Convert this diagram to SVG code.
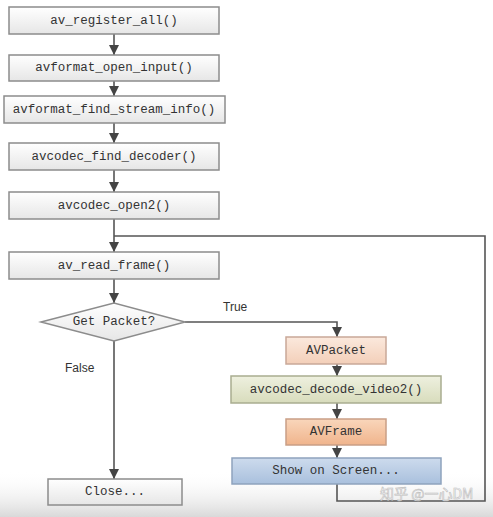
<svg xmlns="http://www.w3.org/2000/svg" width="493" height="517" viewBox="0 0 493 517">
<defs>
<linearGradient id="gBox" x1="0" y1="0" x2="0" y2="1">
<stop offset="0" stop-color="#ffffff"/><stop offset="1" stop-color="#e6e6e6"/>
</linearGradient>
<linearGradient id="gPkt" x1="0" y1="0" x2="0" y2="1">
<stop offset="0" stop-color="#fbe9dd"/><stop offset="1" stop-color="#f3cfb9"/>
</linearGradient>
<linearGradient id="gDec" x1="0" y1="0" x2="0" y2="1">
<stop offset="0" stop-color="#eef0df"/><stop offset="1" stop-color="#d8dcbc"/>
</linearGradient>
<linearGradient id="gFrm" x1="0" y1="0" x2="0" y2="1">
<stop offset="0" stop-color="#f9d6bb"/><stop offset="1" stop-color="#f0b48c"/>
</linearGradient>
<linearGradient id="gShow" x1="0" y1="0" x2="0" y2="1">
<stop offset="0" stop-color="#cddbed"/><stop offset="1" stop-color="#a9c0dd"/>
</linearGradient>
<linearGradient id="gBg" x1="0" y1="0" x2="0" y2="1">
<stop offset="0" stop-color="#ffffff" stop-opacity="0"/><stop offset="1" stop-color="#d9d9d9"/>
</linearGradient>
<marker id="arr" viewBox="0 0 10 10" refX="10" refY="5" markerWidth="10" markerHeight="10" markerUnits="userSpaceOnUse" orient="auto">
<path d="M0,0 L10,5 L0,10 z" fill="#444"/>
</marker>
</defs>
<style>
.box{stroke:#8c8c8c;stroke-width:1.5}
.t{font-family:"Liberation Mono","DejaVu Sans Mono",monospace;font-size:12.5px;fill:#333;text-anchor:middle;dominant-baseline:central}
.lbl{font-family:"Liberation Sans",Arial,sans-serif;font-size:12px;fill:#333}
.c{fill:none;stroke:#555;stroke-width:1.6}
</style>
<rect x="0" y="0" width="493" height="517" fill="#ffffff"/>
<rect x="0" y="470" width="493" height="47" fill="url(#gBg)"/>
<g id="connectors">
<line class="c" x1="114" y1="34" x2="114" y2="55" marker-end="url(#arr)"/>
<line class="c" x1="114" y1="81" x2="114" y2="96" marker-end="url(#arr)"/>
<line class="c" x1="114" y1="123" x2="114" y2="143" marker-end="url(#arr)"/>
<line class="c" x1="114" y1="170" x2="114" y2="192" marker-end="url(#arr)"/>
<line class="c" x1="114" y1="219" x2="114" y2="252" marker-end="url(#arr)"/>
<line class="c" x1="114" y1="279" x2="114" y2="303" marker-end="url(#arr)"/>
<polyline class="c" points="185,322 337,322 337,337" marker-end="url(#arr)"/>
<line class="c" x1="114" y1="341" x2="114" y2="479" marker-end="url(#arr)"/>
<line class="c" x1="337" y1="364" x2="337" y2="376" marker-end="url(#arr)"/>
<line class="c" x1="337" y1="403" x2="337" y2="419" marker-end="url(#arr)"/>
<line class="c" x1="337" y1="445" x2="337" y2="458" marker-end="url(#arr)"/>
<polyline class="c" points="337,484 337,501 485,501 485,236 114,236"/>
</g>
<g id="n1"><rect class="box" x="9" y="7" width="210" height="27" fill="url(#gBox)"/><text class="t" x="114" y="21">av_register_all()</text></g>
<g id="n2"><rect class="box" x="9" y="55" width="210" height="26" fill="url(#gBox)"/><text class="t" x="114" y="68">avformat_open_input()</text></g>
<g id="n3"><rect class="box" x="4" y="96" width="221" height="27" fill="url(#gBox)"/><text class="t" x="114" y="110">avformat_find_stream_info()</text></g>
<g id="n4"><rect class="box" x="9" y="143" width="210" height="27" fill="url(#gBox)"/><text class="t" x="114" y="157">avcodec_find_decoder()</text></g>
<g id="n5"><rect class="box" x="9" y="192" width="210" height="27" fill="url(#gBox)"/><text class="t" x="114" y="206">avcodec_open2()</text></g>
<g id="n6"><rect class="box" x="9" y="252" width="210" height="27" fill="url(#gBox)"/><text class="t" x="114" y="266">av_read_frame()</text></g>
<g id="n7"><polygon class="box" points="41,322 114,303 185,322 114,341" fill="url(#gBox)"/><text class="t" x="114" y="322">Get Packet?</text></g>
<g id="n8"><rect class="box" x="48" y="479" width="134" height="26" fill="url(#gBox)"/><text class="t" x="115" y="492">Close...</text></g>
<g id="n9"><rect x="286" y="337" width="100" height="27" fill="url(#gPkt)" stroke="#c9a898" stroke-width="1.5"/><text class="t" x="336" y="351">AVPacket</text></g>
<g id="n10"><rect x="231" y="376" width="210" height="27" fill="url(#gDec)" stroke="#a9ad90" stroke-width="1.5"/><text class="t" x="336" y="390">avcodec_decode_video2()</text></g>
<g id="n11"><rect x="286" y="419" width="100" height="26" fill="url(#gFrm)" stroke="#c99f86" stroke-width="1.5"/><text class="t" x="336" y="432">AVFrame</text></g>
<g id="n12"><rect x="232" y="458" width="209" height="26" fill="url(#gShow)" stroke="#8ea3bd" stroke-width="1.5"/><text class="t" x="336" y="471">Show on Screen...</text></g>
<text class="lbl" x="223" y="311">True</text>
<text class="lbl" x="65" y="372">False</text>
<text x="380" y="499" font-family="'Noto Sans CJK SC','Liberation Sans',sans-serif" font-size="14" fill="#ffffff" stroke="#b8b8b8" stroke-width="0.6" opacity="0.9">知乎 @一心DM</text>
</svg>
